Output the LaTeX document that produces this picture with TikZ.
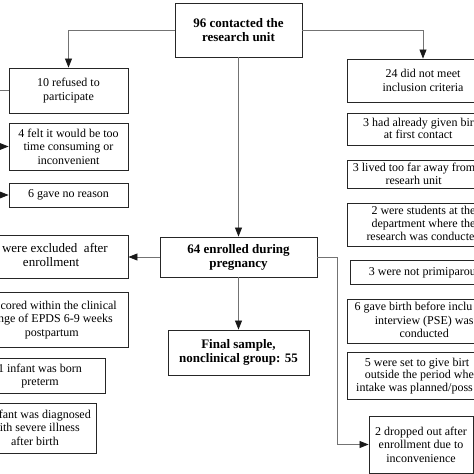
\documentclass[tikz,border=0pt]{standalone}
\usepackage{fontspec}
\setmainfont{Liberation Serif}
\usetikzlibrary{arrows.meta}
\begin{document}
\begin{tikzpicture}[x=1pt,y=-1pt,
  box/.style={draw=black!85, line width=0.9pt, inner sep=0pt, align=center, font=\fontsize{12}{13.5}\selectfont},
  bbox/.style={box, font=\fontsize{13}{14}\selectfont\bfseries},
  txtw/.style={inner sep=0pt, anchor=base west, font=\fontsize{12}{13.5}\selectfont},
  txte/.style={inner sep=0pt, anchor=base east, font=\fontsize{12}{13.5}\selectfont},
  conn/.style={draw=black!55, line width=0.8pt},
  arr/.style={conn, -{Triangle[length=9pt,width=7pt,color=black!90,fill=black!90]}}
]
\useasboundingbox (0,0) rectangle (474,474);
\fill[white] (0,0) rectangle (474,474);
\clip (0,0) rectangle (474,474);

% centre column
\node[bbox, minimum width=127pt, minimum height=54pt] (top) at (238.5,30) {96 contacted the\\research unit};
\node[bbox, minimum width=157pt, minimum height=40pt] (enrolled) at (238.5,257) {64 enrolled during\\pregnancy};
\node[bbox, minimum width=141pt, minimum height=45pt] (final) at (238.5,352.5) {Final sample,\\nonclinical group: 55};

% left column
\node[box, minimum width=119pt, minimum height=45pt] (refused) at (68.5,90.5) {10 refused to\\participate};
\node[box, minimum width=119pt, minimum height=47pt] (felt) at (68.5,146.5) {4 felt it would be too\\time consuming or\\inconvenient};
\node[box, minimum width=119pt, minimum height=24pt] (gave) at (68.5,195) {6 gave no reason};
\node[box, minimum width=156pt, minimum height=43pt] (excluded) at (50,256.5) {};
\node[box, minimum width=156pt, minimum height=55pt] (scored) at (50,319.5) {};
\node[box, minimum width=129pt, minimum height=35pt] (preterm) at (40.5,375.5) {};
\node[box, minimum width=120pt, minimum height=50pt] (diag) at (36,428) {};

\node[txte, font=\fontsize{13}{14}\selectfont] (ex1) at (108,252.5) {were excluded\ \ after};
\node[txte, font=\fontsize{13}{14}\selectfont] (ex2) at (79.5,266.5) {enrollment};
\node[txte] (sc1) at (117,309) {cored within the clinical};
\node[txte] (sc2) at (113,322.5) {nge of EPDS 6-9 weeks};
\node[txte] (sc3) at (79,336.5) {postpartum};
\node[txte] (pt1) at (82,372) {1 infant was born};
\node[txte] (pt2) at (59,385.5) {preterm};
\node[txte] (dg1) at (91,418) {fant was diagnosed};
\node[txte] (dg2) at (80,431.5) {ith severe illness};
\node[txte] (dg3) at (59,445) {after birth};

% right column
\node[box, minimum width=152pt, minimum height=43pt] (nomeet) at (423,80.5) {24 did not meet\\inclusion criteria};
\node[box, minimum width=152pt, minimum height=32pt] (birth) at (423,129) {};
\node[box, minimum width=152pt, minimum height=28pt] (far) at (423,174) {};
\node[box, minimum width=152pt, minimum height=43pt] (students) at (423,224.5) {};
\node[box, minimum width=149pt, minimum height=24pt] (primip) at (424.5,272) {};
\node[box, minimum width=152pt, minimum height=44pt] (before) at (423,321) {};
\node[box, minimum width=152pt, minimum height=47pt] (period) at (423,375.5) {};
\node[box, minimum width=104pt, minimum height=57pt] (dropped) at (421,444.5) {2 dropped out after\\enrollment due to\\inconvenience};

\node[txtw] (bi1) at (363,126.5) {3 had already given bir};
\node[txtw] (bi2) at (383.7,138.5) {at first contact};
\node[txtw] (fa1) at (352.7,171.5) {3 lived too far away from};
\node[txtw] (fa2) at (385.3,184.5) {researh unit};
\node[txtw] (st1) at (371.3,214.5) {2 were students at the};
\node[txtw] (st2) at (371.3,227) {department where the};
\node[txtw] (st3) at (366.3,240) {research was conducte};
\node[txtw] (pr1) at (368.7,275.5) {3 were not primiparou};
\node[txtw] (be1) at (354.3,310.5) {6 gave birth before inclu};
\node[txtw] (be2) at (374.7,324.5) {interview (PSE) was};
\node[txtw] (be3) at (399.3,337.5) {conducted};
\node[txtw] (pe1) at (364.7,366) {5 were set to give birt};
\node[txtw] (pe2) at (364.7,378.5) {outside the period whe};
\node[txtw] (pe3) at (356,391) {intake was planned/poss};

% connectors
\draw[arr] (top.west) -| (refused.north);
\draw[arr] (top.east) -| (nomeet.north);
\draw[arr] (top.south) -- (enrolled.north);
\draw[arr] (enrolled.west) -- (enrolled.west -| excluded.east);
\draw[arr] (enrolled.south) -- (final.north);
\draw[arr] (enrolled.east) -- ++(20,0) |- (dropped.west);

\coordinate (lb) at (-3,0);
\draw[conn] (refused.west) -- (refused.west -| lb) -- (lb |- gave.west);
\draw[arr] (lb |- felt.west) -- (felt.west);
\draw[arr] (lb |- gave.west) -- (gave.west);
\end{tikzpicture}
\end{document}
